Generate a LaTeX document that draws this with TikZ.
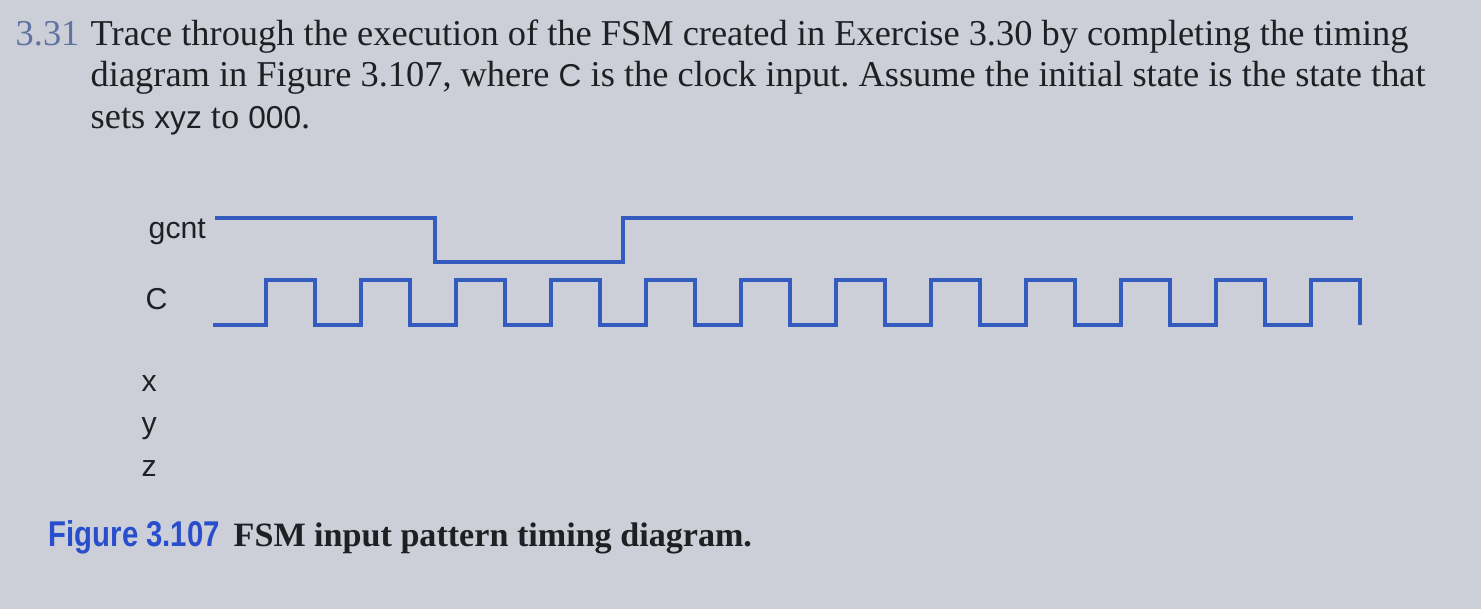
\documentclass[tikz,border=0pt]{standalone}
\usepackage{graphicx}
\usepackage{fontspec}
\setmainfont{Liberation Serif}
\setsansfont{Liberation Sans}
\usetikzlibrary{positioning}
\frenchspacing
\definecolor{paper}{RGB}{204,207,215}
\definecolor{ink}{RGB}{32,32,36}
\definecolor{wire}{RGB}{52,92,190}
\definecolor{figblue}{RGB}{40,78,205}
\definecolor{numblue}{RGB}{95,115,160}
\tikzset{
	%text styles
	txt/.style = {anchor=base west, inner sep=0pt, text=ink,
                      font=\fontsize{10.35}{12}\selectfont},
	lab/.style = {anchor=base west, inner sep=0pt, text=ink,
                      font=\sffamily\fontsize{8.6}{10}\selectfont},
	figcap/.style = {anchor=base west, inner sep=0pt, text=ink,
                      font=\bfseries\fontsize{9.7}{12}\selectfont},
	%waveforms
	sig/.style = {draw=wire, line width=1.05pt}
}

\begin{document}
\begin{tikzpicture}[x=0.01cm, y=-0.01cm]
	\useasboundingbox[fill=paper] (0,0) rectangle (1481,609);
	%nodes
	\node[txt, text=numblue] (num) at (15, 45) {3.31};
	\node[txt] (l1) at (90, 45)
		{Trace through the execution of the FSM created in Exercise 3.30 by completing the timing};
	\node[txt] (l2) at (90, 86)
		{diagram in Figure 3.107, where {\sffamily\small C} is the clock input. Assume the initial state is the state that};
	\node[txt] (l3) at (90, 128) {sets {\sffamily\small xyz} to {\sffamily\small 000}.};
	\node[lab] (gcnt) at (148, 238) {gcnt};
	\node[lab] (c)    at (145, 309) {C};
	\node[lab] (x)    at (141, 391) {x};
	\node[lab] (y)    at (141, 433) {y};
	\node[lab] (z)    at (141, 476) {z};
	\node[figcap, text=figblue] (fig) at (48, 546)
		{\scalebox{0.86}[1.05]{\sffamily Figure 3.107}};
	\node[figcap] (capt) at (233, 546) {FSM input pattern timing diagram.};
	%waves
	\draw[sig] (215,218) -- (435,218) -- (435,262) -- (623,262) -- (623,218) -- (1353,218);
	\draw[sig] (213,325) -- (266,325)
		-- ++(0,-45) -- ++(49,0) -- ++(0,45) -- ++(46,0)
		-- ++(0,-45) -- ++(49,0) -- ++(0,45) -- ++(46,0)
		-- ++(0,-45) -- ++(49,0) -- ++(0,45) -- ++(46,0)
		-- ++(0,-45) -- ++(49,0) -- ++(0,45) -- ++(46,0)
		-- ++(0,-45) -- ++(49,0) -- ++(0,45) -- ++(46,0)
		-- ++(0,-45) -- ++(49,0) -- ++(0,45) -- ++(46,0)
		-- ++(0,-45) -- ++(49,0) -- ++(0,45) -- ++(46,0)
		-- ++(0,-45) -- ++(49,0) -- ++(0,45) -- ++(46,0)
		-- ++(0,-45) -- ++(49,0) -- ++(0,45) -- ++(46,0)
		-- ++(0,-45) -- ++(49,0) -- ++(0,45) -- ++(46,0)
		-- ++(0,-45) -- ++(49,0) -- ++(0,45) -- ++(46,0)
		-- ++(0,-45) -- ++(49,0) -- ++(0,45);
\end{tikzpicture}
\end{document}
